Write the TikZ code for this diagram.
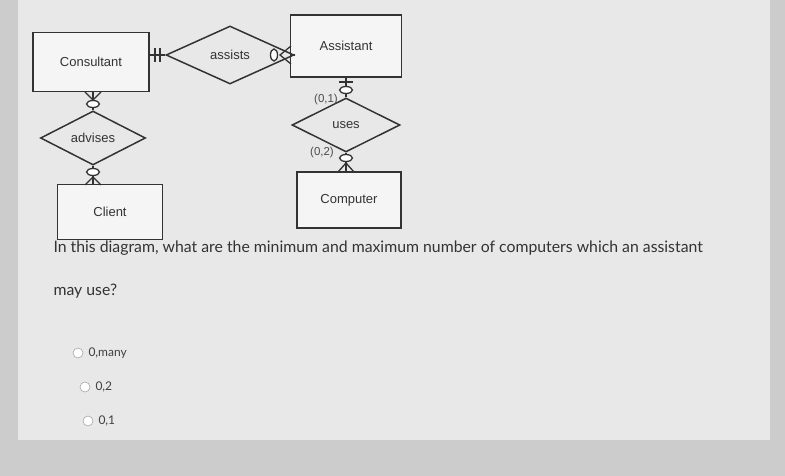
\documentclass[tikz,border=0pt]{standalone}
\usepackage{fontspec}
\setmainfont{Lato}
\newfontfamily\diag{Liberation Sans}
\usetikzlibrary{shapes.geometric}
\begin{document}
\begin{tikzpicture}[x=1pt,y=-1pt,
  ent/.style={draw=black!80,line width=1.5pt,fill=white!92!gray,minimum width=#1,minimum height=56pt,font=\diag\fontsize{13}{14}\selectfont,text=black!80},
  rel/.style={draw=black!80,line width=1.5pt,diamond,aspect=2,inner sep=1pt,font=\diag\fontsize{13}{14}\selectfont,text=black!80},
  ln/.style={draw=black!80,line width=1.3pt},
  opt/.style={draw=black!35,fill=white,line width=0.6pt},
  qtext/.style={anchor=west,font=\fontsize{15.8}{19}\selectfont,text=black!80}]
\fill[black!20] (0,0) rectangle (785,476);
\fill[black!9] (18,0) rectangle (770,440);
\useasboundingbox (0,0) rectangle (785,476);
\node[ent=116pt,minimum height=59pt] (cons) at (91,62) {Consultant};
\node[ent=111pt,minimum height=62pt] (asst) at (346,46) {Assistant};
\node[ent=105pt,minimum height=55pt] (cli) at (110,212) {Client};
\node[ent=104pt,minimum height=56pt] (comp) at (349,200) {Computer};
\node[rel,minimum width=128pt,minimum height=58pt] (assists) at (230,55) {assists};
\node[rel,minimum width=105pt,minimum height=54pt] (advises) at (93,138) {advises};
\node[rel,minimum width=108pt,minimum height=54pt] (uses) at (346,125) {uses};
\draw[ln] (cons.east |- assists.west) -- (assists.west);
\draw[ln] (assists.east) -- (assists.east -| asst.west);
\draw[ln] (advises.north |- cons.south) -- (advises.north);
\draw[ln] (advises.south) -- (advises.south |- cli.north);
\draw[ln] (asst.south) -- (uses.north);
\draw[ln] (uses.south) -- (uses.south |- comp.north);
% Consultant side of assists: two bars
\draw[ln] (155,48) -- (155,62) (160,48) -- (160,62);
% Assistant side of assists: circle + crow foot
\draw[ln,fill=white] (274,55) ellipse (3.5pt and 6pt);
\draw[ln] (291,46) -- (280,55) -- (291,64);
% Consultant bottom: crow foot + circle
\draw[ln] (85,92) -- (93,100) -- (101,92);
\draw[ln,fill=white] (93,104) ellipse (6.5pt and 3.5pt);
% Client top: circle + crow foot
\draw[ln,fill=white] (93,172) ellipse (6.5pt and 3.5pt);
\draw[ln] (85,185) -- (93,177) -- (101,185);
% Assistant bottom: bar + circle
\draw[ln] (339,82) -- (353,82);
\draw[ln,fill=white] (346,90) ellipse (6.5pt and 3.5pt);
% Computer top: circle + crow foot
\draw[ln,fill=white] (346,158) ellipse (6.5pt and 3.5pt);
\draw[ln] (338,172) -- (346,163) -- (354,172);
\node[font=\diag\fontsize{11.5}{12}\selectfont,text=black!70] (l1) at (326,100) {(0,1)};
\node[font=\diag\fontsize{11.5}{12}\selectfont,text=black!70] (l2) at (322,153) {(0,2)};
\node[qtext] (q1) at (50,248) {In this diagram, what are the minimum and maximum number of computers which an assistant};
\node[qtext] (q2) at (50,291) {may use?};
\node[opt,circle,minimum size=10pt,inner sep=0pt] (o1) at (78,353) {};
\node[anchor=west,font=\fontsize{12}{13}\selectfont,text=black!75] (t1) at (85,353) {0,many};
\node[opt,circle,minimum size=10pt,inner sep=0pt] (o2) at (85,387) {};
\node[anchor=west,font=\fontsize{12}{13}\selectfont,text=black!75] (t2) at (92,387) {0,2};
\node[opt,circle,minimum size=10pt,inner sep=0pt] (o3) at (88,421) {};
\node[anchor=west,font=\fontsize{12}{13}\selectfont,text=black!75] (t3) at (95,421) {0,1};
\end{tikzpicture}
\end{document}
